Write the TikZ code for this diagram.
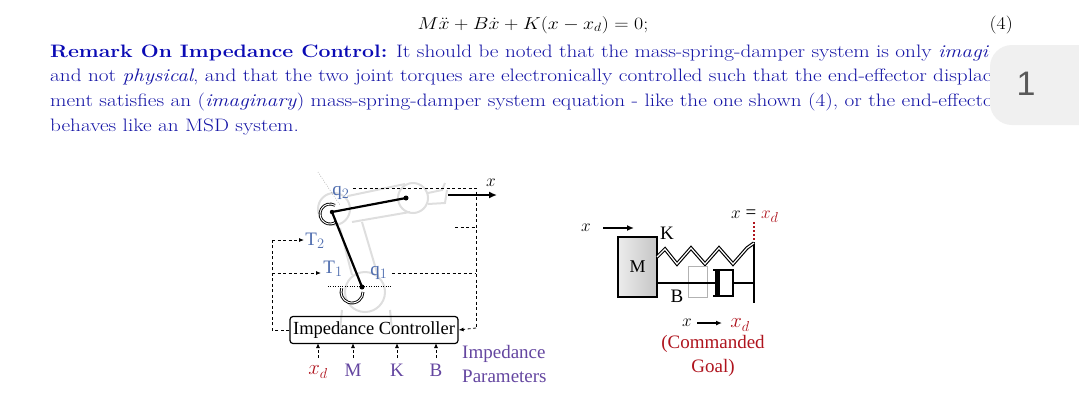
\documentclass[tikz,border=0pt]{standalone}
\usepackage{fontspec}
\usepackage{amsmath}
\newfontfamily\tms{Liberation Serif}
\newfontfamily\tsans{Liberation Sans}
\usetikzlibrary{arrows.meta}
\definecolor{rtxt}{RGB}{20,20,165}
\definecolor{rblue}{RGB}{10,10,180}
\definecolor{qcol}{RGB}{80,110,175}
\definecolor{pcol}{RGB}{100,70,160}
\definecolor{redc}{RGB}{175,20,30}
\definecolor{ghost}{RGB}{222,222,222}
\newcommand{\widetxt}[1]{\scalebox{1.18}[1]{#1}}
\begin{document}
\begin{tikzpicture}[x=1pt,y=-1pt,
  body/.style={anchor=base west,inner sep=0,text=rtxt,font=\fontsize{18}{22}\selectfont},
  lab/.style={inner sep=0,font=\tms\fontsize{19}{20}\selectfont},
  dsh/.style={dashed,line width=0.8pt,dash pattern=on 3pt off 2.5pt},
  arr/.style={-{Latex[length=5pt,width=4pt]}},
  link/.style={line width=2.2pt,line cap=round},
  gh/.style={draw=ghost,line width=2pt}]
\useasboundingbox (0,0) rectangle (1079,416);
% ---- text ----
\node (eq) [anchor=base,inner sep=0,font=\fontsize{18}{22}\selectfont] at (533,29) {\scalebox{1.15}[1]{$M\ddot{x}+B\dot{x}+K(x-x_d)=0;$}};
\node (eqn) [anchor=base east,inner sep=0,font=\fontsize{18}{22}\selectfont] at (1013,29) {\scalebox{1.1}[1]{(4)}};
\node (l1) [body] at (50,57) {\widetxt{\textcolor{rblue}{\bfseries Remark On Impedance Control:} It should be noted that the mass-spring-damper system is only \textit{imaginary}}};
\node (l2) [body] at (50,81) {\widetxt{and not \textit{physical}, and that the two joint torques are electronically controlled such that the end-effector displace-}};
\node (l3) [body] at (50,106) {\widetxt{ment satisfies an (\textit{imaginary}) mass-spring-damper system equation - like the one shown (4), or the end-effector}};
\node (l4) [body] at (50,131) {\widetxt{behaves like an MSD system.}};
\fill[white] (990,36) rectangle (1079,140);
\fill[gray!12, rounded corners=22pt] (990,45) rectangle (1120,125);
\node (one) [inner sep=0,font=\tsans\fontsize{34}{34}\selectfont,text=gray!70!black] at (1026,84) {1};
% ---- ghost robot ----
\draw[gh] (365,292) circle (20);
\draw[gh] (342,310) -- (340,330) (390,310) -- (392,330);
\draw[gh] (340,228) -- (352,275) (362,222) -- (378,276);
\draw[gh] (334,209) circle (16);
\draw[gh] (348,196) -- (405,184) (352,222) -- (410,212);
\draw[gh] (413,198) circle (15);
\draw[gh] (428,193) -- (442,190) -- (445,183) (428,204) -- (445,203) -- (447,190);
% ---- robot ----
\draw[dotted] (318,172) -- (340,205);
\draw[dotted] (328,286) -- (392,286);
\draw[line width=2.8pt] (330,214) ++(-60:10) arc (-60:-310:10);
\draw[white,line width=1pt] (330,214) ++(-60:10) arc (-60:-310:10);
\draw[line width=2.8pt] (352,292) ++(-160:11) arc (-160:-360:11);
\draw[white,line width=1pt] (352,292) ++(-160:11) arc (-160:-360:11);
\draw[link] (362,287) -- (332,212);
\draw[link] (332,212) -- (406,198);
\fill (362,287) circle (2.5) (406,198) circle (2.5) (332,212) circle (2.2);
\draw[line width=2pt,-{Latex[length=8pt,width=7pt]}] (448,195) -- (497,195);
\node (xl) [lab,font=\fontsize{18}{20}\selectfont] at (491,183) {$x$};
\node (q2) [lab,text=qcol] at (341,193) {q$_2$};
\node (q1) [lab,text=qcol] at (379,273) {q$_1$};
\node (t2) [lab,text=qcol] at (315,241) {T$_2$};
\node (t1) [lab,text=qcol] at (333,269) {T$_1$};
% controller
\node (ic) [draw,line width=1.2pt,rounded corners=3pt,minimum width=168,minimum height=27,inner sep=0,font=\tms\fontsize{18.5}{20}\selectfont] at (374,330) {Impedance Controller};
\draw[dsh] (353,188) -- (476,188) -- (476,328);
\draw[dsh,arr] (476,328) -- (ic.east);
\draw[dsh] (455,227) -- (476,227);
\draw[dsh] (392,273) -- (476,273);
\draw[dsh] (ic.west) -- (272,330) -- (272,240);
\draw[dsh,arr] (272,240) -- (304,240);
\draw[dsh,arr] (272,273) -- (321,273);
\foreach \xx in {318,353,397,436}{
  \draw[dsh,arr] (\xx,358) -- (\xx,343);}
\node (xd) [lab,text=redc,font=\fontsize{21}{20}\selectfont] at (318,372) {$x_d$};
\node (m) [lab,text=pcol] at (353,370) {M};
\node (k) [lab,text=pcol] at (397,370) {K};
\node (b) [lab,text=pcol] at (436,370) {B};
\node (ip) [lab,text=pcol,align=left,anchor=west,font=\tms\fontsize{19}{24}\selectfont] at (462,364) {Impedance\\Parameters};
% ---- MSD ----
\node (M) [draw,line width=1.8pt,left color=gray!15,right color=gray!45,minimum width=39,minimum height=60,inner sep=0,font=\tms\fontsize{18}{20}\selectfont] at (637.5,267) {M};
\draw[line width=2pt] (754,242) -- (754,303);
\draw[redc,line width=2pt,dotted] (754,222) -- (754,240);
\node (xeq) [lab,anchor=base west] at (731,218) {$x$ = \textcolor{redc}{$x_d$}};
\node (xm) [lab] at (586,228) {$x$};
\draw[line width=2pt,-{Latex[length=7pt,width=6pt]}] (603,228) -- (634,228);
\node (K) [lab] at (667,233) {K};
\draw[line width=3.5pt] (657,257) -- (665,249) -- (677,264) -- (691,248) -- (705,264) -- (719,248) -- (733,264) -- (747,248) -- (754,243);
\draw[white,line width=1.2pt] (657,257) -- (665,249) -- (677,264) -- (691,248) -- (705,264) -- (719,248) -- (733,264) -- (747,248) -- (754,243);
\draw[gray!60,line width=0.6pt] (688,266) rectangle (707,297);
\draw[line width=1.5pt] (657,283) -- (715,283);
\draw[line width=5pt] (717,270) -- (717,296);
\draw[line width=2pt] (713,270) -- (733,270) -- (733,296) -- (713,296);
\draw[line width=1.5pt] (733,283) -- (754,283);
\node (B) [lab] at (677,296) {B};
\node (xg) [lab] at (687,323) {$x$};
\draw[line width=1.2pt,-{Latex[length=6pt,width=5pt]}] (697,323) -- (722,323);
\node (xdg) [lab,text=redc,font=\fontsize{21}{20}\selectfont] at (740,325) {$x_d$};
\node (cg) [lab,text=redc,align=center,font=\tms\fontsize{19}{24}\selectfont] at (713,356) {(Commanded\\Goal)};
\end{tikzpicture}
\end{document}
